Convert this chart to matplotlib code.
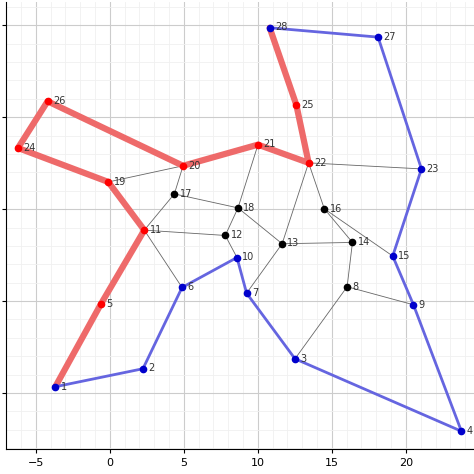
import matplotlib.pyplot as plt
from matplotlib.ticker import MultipleLocator

node_ids = list(range(1, 29))
node_x = [-3.68, 2.24, 12.51, 23.75, -0.60, 4.88, 9.24, 16.03, 20.51, 8.59,
          2.33, 7.80, 11.64, 16.39, 19.11, 14.49, 4.36, 8.66, -0.10, 4.95,
          10.01, 13.43, 21.05, -6.20, 12.60, -4.20, 18.12, 10.80]
node_y = [0.34, 1.32, 1.86, -2.08, 4.84, 5.74, 5.43, 5.78, 4.80, 7.37,
          8.86, 8.57, 8.12, 8.19, 7.45, 10.02, 10.83, 10.07, 11.48, 12.36,
          13.51, 12.52, 12.19, 13.33, 15.67, 15.87, 19.36, 19.87]

red_path = [1, 5, 11, 19, 24, 26, 20, 21, 22, 25, 28]
blue_path = [1, 2, 6, 10, 7, 3, 4, 9, 15, 23, 27, 28]
edges = [(19, 20), (20, 17), (17, 11), (17, 18), (11, 12), (11, 6), (12, 10),
         (12, 18), (18, 21), (18, 13), (13, 7), (13, 22), (13, 14), (22, 23),
         (22, 16), (16, 14), (16, 15), (14, 8), (8, 9), (8, 3)]

pos = {n: (x, y) for n, x, y in zip(node_ids, node_x, node_y)}

fig, ax = plt.subplots(figsize=(4.74, 4.74), dpi=100)
fig.subplots_adjust(left=0.013, right=1.0, bottom=0.053, top=0.995)

for a, b in edges:
    ax.plot([pos[a][0], pos[b][0]], [pos[a][1], pos[b][1]], color='#666666', lw=0.6, zorder=2)
ax.plot([pos[n][0] for n in red_path], [pos[n][1] for n in red_path],
        color='#ee6a6a', lw=4.5, solid_capstyle='round', zorder=3)
ax.plot([pos[n][0] for n in blue_path], [pos[n][1] for n in blue_path],
        color='#6565e0', lw=2, zorder=3)

for n in node_ids:
    c = 'red' if n in red_path else ('#0000cc' if n in blue_path else 'black')
    if n in (1, 28):
        c = '#0000cc'
    ax.plot(*pos[n], 'o', color=c, ms=4.5, zorder=4)
    ax.text(pos[n][0] + 0.35, pos[n][1] - 0.15, str(n), fontsize=7, color='#333333', zorder=5)

ax.set_xlim(-7.0, 24.6)
ax.set_ylim(-3.04, 21.25)
ax.xaxis.set_major_locator(MultipleLocator(5))
ax.xaxis.set_minor_locator(MultipleLocator(1))
ax.yaxis.set_major_locator(MultipleLocator(5))
ax.yaxis.set_minor_locator(MultipleLocator(1))
ax.set_yticklabels([])
ax.tick_params(axis='both', labelsize=8, length=3)
ax.tick_params(which='minor', length=0)
ax.grid(True, which='major', color='#cccccc', lw=0.8)
ax.grid(True, which='minor', color='#f0f0f0', lw=0.6)
for s in ('top', 'right'):
    ax.spines[s].set_visible(False)

fig.savefig('out.png', dpi=100)
